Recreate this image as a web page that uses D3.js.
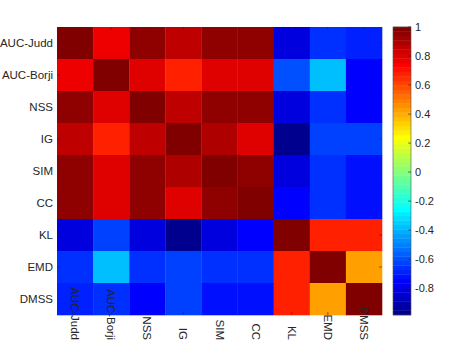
<!DOCTYPE html>
<html><head><meta charset="utf-8">
<script src="https://cdn.jsdelivr.net/npm/d3@7"></script>
<style>body{margin:0;background:#fff;}svg{display:block;}text{font-family:Arial,"Liberation Sans",Helvetica,sans-serif;fill:#262626;}</style>
</head><body>
<script>
const labels = ["AUC-Judd","AUC-Borji","NSS","IG","SIM","CC","KL","EMD","DMSS"];
const rowAUCJudd  = [1.00, 0.78, 0.96, 0.86, 0.95, 0.95, -0.80, -0.65, -0.70];
const rowAUCBorji = [0.78, 1.00, 0.81, 0.66, 0.81, 0.80, -0.61, -0.37, -0.74];
const rowNSS      = [0.96, 0.81, 1.00, 0.85, 0.95, 0.95, -0.80, -0.65, -0.74];
const rowIG       = [0.86, 0.66, 0.85, 1.00, 0.89, 0.81, -0.985, -0.64, -0.64];
const rowSIM      = [0.95, 0.81, 0.94, 0.89, 1.00, 0.96, -0.82, -0.67, -0.72];
const rowCC       = [0.95, 0.80, 0.94, 0.81, 0.96, 1.00, -0.76, -0.65, -0.71];
const rowKL       = [-0.80, -0.62, -0.80, -0.985, -0.82, -0.76, 1.00, 0.66, 0.66];
const rowEMD      = [-0.66, -0.37, -0.66, -0.64, -0.67, -0.65, 0.66, 1.00, 0.44];
const rowDMSS     = [-0.70, -0.67, -0.74, -0.64, -0.72, -0.71, 0.66, 0.44, 1.00];
const matrix = [rowAUCJudd,rowAUCBorji,rowNSS,rowIG,rowSIM,rowCC,rowKL,rowEMD,rowDMSS];
const cbTicks = [-0.8,-0.6,-0.4,-0.2,0,0.2,0.4,0.6,0.8,1];

// MATLAB jet(64)
const M = 64, n = 16;
const u = [];
for (let k=1;k<=n;k++) u.push(k/n);
for (let k=1;k<n;k++) u.push(1);
for (let k=n;k>=1;k--) u.push(k/n);
const jet = d3.range(M).map(()=>[0,0,0]);
u.forEach((val,j)=>{
  const g = 8 + j + 1, r = g + n, b = g - n;
  if (r>=1 && r<=M) jet[r-1][0]=val;
  if (g>=1 && g<=M) jet[g-1][1]=val;
  if (b>=1 && b<=M) jet[b-1][2]=val;
});
const jetCss = jet.map(c=>d3.rgb(c[0]*255,c[1]*255,c[2]*255).toString());

const W=474,H=355;
const px0=57, px1=382, py0=27, py1=315;
const cbx0=393, cbx1=411;

const all = matrix.flat();
const [vmin, vmax] = d3.extent(all);
const idx = v => Math.min(M-1, Math.max(0, Math.floor((v-vmin)/(vmax-vmin)*M)));

const svg = d3.select("body").append("svg").attr("width",W).attr("height",H);

const x = d3.scaleBand().domain(labels).range([px0,px1]);
const y = d3.scaleBand().domain(labels).range([py0,py1]);

const cells = [];
matrix.forEach((row,i)=>row.forEach((v,j)=>cells.push({r:labels[i],c:labels[j],v})));
svg.append("g").selectAll("rect").data(cells).join("rect")
  .attr("x",d=>x(d.c)).attr("y",d=>y(d.r))
  .attr("width",x.bandwidth()+0.3).attr("height",y.bandwidth()+0.3)
  .attr("fill",d=>jetCss[idx(d.v)]);

// tick marks inside
const tk = svg.append("g").attr("stroke","#262626").attr("stroke-width",0.6);
labels.forEach(l=>{
  const cx = x(l)+x.bandwidth()/2, cy = y(l)+y.bandwidth()/2;
  tk.append("line").attr("x1",cx).attr("x2",cx).attr("y1",py1).attr("y2",py1-3);
  tk.append("line").attr("x1",cx).attr("x2",cx).attr("y1",py0).attr("y2",py0+3);
  tk.append("line").attr("x1",px0).attr("x2",px0+3).attr("y1",cy).attr("y2",cy);
  tk.append("line").attr("x1",px1).attr("x2",px1-3).attr("y1",cy).attr("y2",cy);
});

// y labels
svg.append("g").selectAll("text").data(labels).join("text")
  .attr("x",53).attr("y",d=>y(d)+y.bandwidth()/2)
  .attr("text-anchor","end").attr("dominant-baseline","central")
  .attr("font-size",11.5).text(d=>d);

// x labels rotated
svg.append("g").selectAll("text").data(labels).join("text")
  .attr("transform",d=>`translate(${x(d)+x.bandwidth()/2},340) rotate(90)`)
  .attr("text-anchor","end").attr("dominant-baseline","central")
  .attr("font-size",11.5).text(d=>d);

// colorbar
const cy = d3.scaleLinear().domain([vmin,vmax]).range([py1,py0]);
const band = d3.scaleBand().domain(d3.range(M)).range([py1,py0]);
svg.append("g").selectAll("rect").data(d3.range(M)).join("rect")
  .attr("x",cbx0).attr("width",cbx1-cbx0)
  .attr("y",d=>band(d)-0.2).attr("height",band.bandwidth()+0.4)
  .attr("fill",d=>jetCss[d]);
svg.append("rect").attr("x",cbx0).attr("y",py0).attr("width",cbx1-cbx0).attr("height",py1-py0)
  .attr("fill","none").attr("stroke","#555").attr("stroke-width",0.6);
const cbAxis = svg.append("g").attr("transform",`translate(${cbx1},0)`)
  .call(d3.axisRight(cy).tickValues(cbTicks).tickSize(0).tickPadding(4).tickFormat(d=>String(d)));
cbAxis.select(".domain").remove();
cbAxis.selectAll("text").attr("font-size",11).attr("fill","#262626").style("font-family","Arial,'Liberation Sans',sans-serif");
cbTicks.forEach(t=>{
  svg.append("line").attr("x1",cbx1).attr("x2",cbx1-3).attr("y1",cy(t)).attr("y2",cy(t))
    .attr("stroke","#262626").attr("stroke-width",0.6);
});
</script>
</body></html>
